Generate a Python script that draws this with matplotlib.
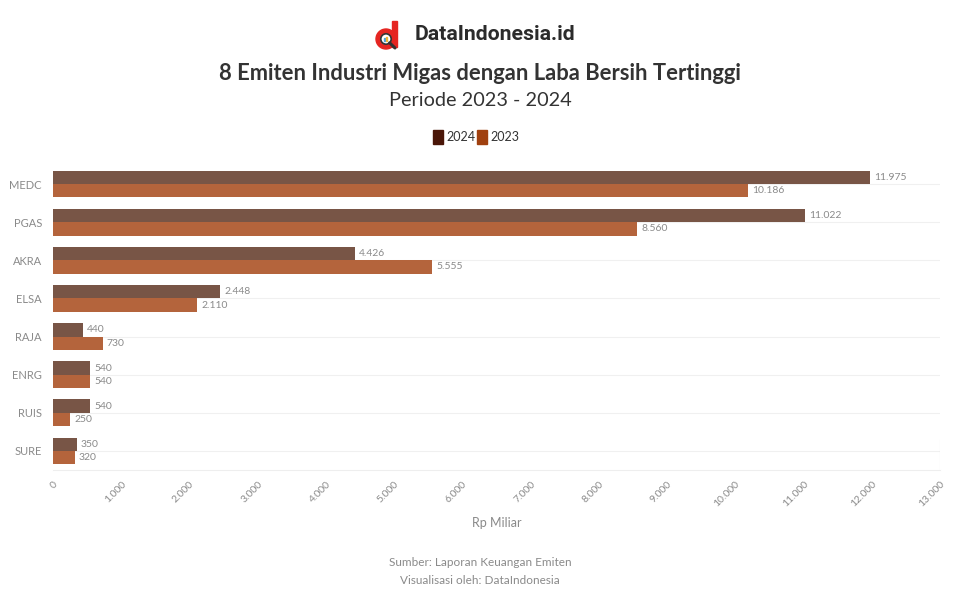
import matplotlib
matplotlib.use('Agg')
import matplotlib.pyplot as plt
from matplotlib.patches import Circle, Rectangle, Wedge
import numpy as np

# data (Rp miliar)
emiten = ['MEDC', 'PGAS', 'AKRA', 'ELSA', 'RAJA', 'ENRG', 'RUIS', 'SURE']
laba_2024 = [11975, 11022, 4426, 2448, 440, 540, 540, 350]
laba_2023 = [10186, 8560, 5555, 2110, 730, 540, 250, 320]
x_ticks = list(range(0, 13001, 1000))

color_2024 = '#785546'
color_2023 = '#b4643c'
legend_2024 = '#4a1608'
legend_2023 = '#a0400f'
text_grey = '#8a8a8a'

plt.rcParams['font.family'] = ['Lato', 'DejaVu Sans']

fig = plt.figure(figsize=(9.6, 6), dpi=100)
fig.patch.set_facecolor('white')

# logo
logo = fig.add_axes([372 / 960, 1 - 50 / 600, 34 / 960, 31 / 600])
logo.set_xlim(0, 34)
logo.set_ylim(0, 31)
logo.set_aspect('equal')
logo.axis('off')
logo.add_patch(Wedge((14, 11), 10, 0, 360, width=4, color='#e52521'))
logo.add_patch(Rectangle((20, 3), 4.5, 26, color='#e52521'))
logo.add_patch(Circle((14, 11), 5.2, fc='white', ec='#333333', lw=1.2))
logo.add_patch(Rectangle((12, 9), 1.2, 3, color='#4aa3df'))
logo.add_patch(Rectangle((13.6, 9), 1.2, 4.5, color='#f2b233'))
logo.plot([17.6, 23], [7.2, 2], color='#333333', lw=2.2, solid_capstyle='round')
fig.text(415 / 960, 1 - 35 / 600, 'DataIndonesia.id', fontsize=15.3, fontweight='bold',
         color='#2b2b2b', family=['Roboto', 'DejaVu Sans'], va='center', ha='left')

# titles
fig.text(0.5, 1 - 73 / 600, '8 Emiten Industri Migas dengan Laba Bersih Tertinggi',
         fontsize=15.8, fontweight='bold', color='#333333', ha='center', va='center')
fig.text(0.5, 1 - 101 / 600, 'Periode 2023 - 2024', fontsize=14.3, color='#333333',
         ha='center', va='center')

# legend
for x0, c, lab in [(433, legend_2024, '2024'), (477, legend_2023, '2023')]:
    fig.patches.append(Rectangle((x0 / 960, 1 - 144 / 600), 10 / 960, 14 / 600,
                                 transform=fig.transFigure, color=c))
    fig.text((x0 + 13) / 960, 1 - 137 / 600, lab, fontsize=9, color='#333333',
             va='center', ha='left')

ax = fig.add_axes([53 / 960, 1 - 470 / 600, 887 / 960, 305 / 600])
y = np.arange(len(emiten))
h = 0.35
ax.barh(y - h / 2, laba_2024, height=h, color=color_2024, zorder=3)
ax.barh(y + h / 2, laba_2023, height=h, color=color_2023, zorder=3)

for yi, v in zip(y, laba_2024):
    ax.text(v + 60, yi - h / 2, f'{v:,}'.replace(',', '.'), fontsize=7.5,
            color=text_grey, va='center', ha='left')
for yi, v in zip(y, laba_2023):
    ax.text(v + 60, yi + h / 2, f'{v:,}'.replace(',', '.'), fontsize=7.5,
            color=text_grey, va='center', ha='left')

ax.set_ylim(len(emiten) - 0.5, -0.5)
ax.set_xlim(0, 13000)
ax.set_yticks(y)
ax.set_yticklabels(emiten, fontsize=8, color=text_grey)
ax.set_xticks(x_ticks)
ax.set_xticklabels([f'{t:,}'.replace(',', '.') for t in x_ticks], rotation=45,
                   ha='right', rotation_mode='anchor', fontsize=7.5, color=text_grey)
ax.tick_params(axis='x', length=0, pad=7)
ax.tick_params(axis='y', length=0, pad=8)
ax.grid(axis='y', color='#f0f0f0', lw=0.8, zorder=0)
for s in ['top', 'right', 'left']:
    ax.spines[s].set_visible(False)
ax.spines['bottom'].set_color('#eeeeee')
ax.axvline(13000, ymin=0, ymax=0.1, color='#dddddd', lw=0.8)
ax.set_xlabel('Rp Miliar', fontsize=9, color=text_grey, labelpad=6)

# footer
fig.text(0.5, 1 - 563 / 600, 'Sumber: Laporan Keuangan Emiten', fontsize=8.5,
         color=text_grey, ha='center', va='center')
fig.text(0.5, 1 - 580 / 600, 'Visualisasi oleh: DataIndonesia', fontsize=8.5,
         color=text_grey, ha='center', va='center')

fig.savefig('out.png', dpi=100, facecolor='white')
